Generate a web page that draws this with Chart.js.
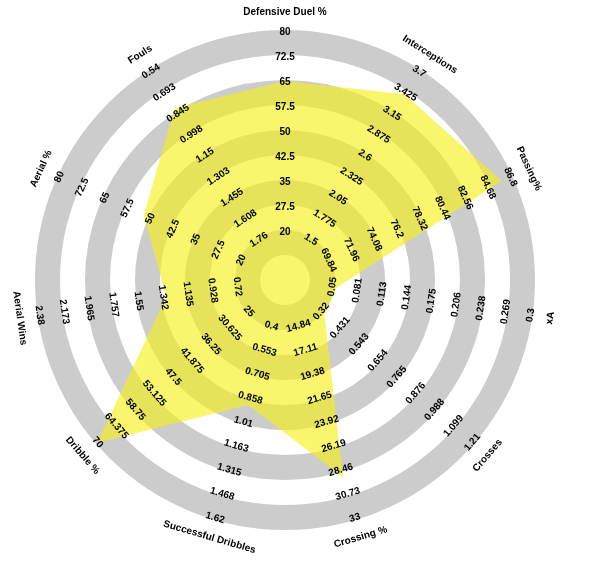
<!DOCTYPE html>
<html>
<head>
<meta charset="utf-8">
<title>Player Radar</title>
<script src="https://cdn.jsdelivr.net/npm/chart.js@4.4.1/dist/chart.umd.min.js"></script>
<style>
  html, body { margin: 0; padding: 0; background: #ffffff; }
  #radar-chart { display: block; }
</style>
</head>
<body>
<canvas id="radar-chart" width="589" height="564"></canvas>
<script>
// Radar parameters, clockwise from the top
const params = [
  "Defensive Duel %", "Interceptions", "Passing%", "xA", "Crosses", "Crossing %",
  "Successful Dribbles", "Dribble %", "Aerial Wins", "Aerial %", "Fouls"
];

// Player values
const playerValues = [64.7, 3.38, 85.8, 0.053, 0.33, 29.0, 0.89, 69.7, 1.30, 51.6, 0.82];

// Tick labels for every axis, inner ring to outer ring
const tickLabels = [
  ["20", "27.5", "35", "42.5", "50", "57.5", "65", "72.5", "80"],
  ["1.5", "1.775", "2.05", "2.325", "2.6", "2.875", "3.15", "3.425", "3.7"],
  ["69.84", "71.96", "74.08", "76.2", "78.32", "80.44", "82.56", "84.68", "86.8"],
  ["0.05", "0.081", "0.113", "0.144", "0.175", "0.206", "0.238", "0.269", "0.3"],
  ["0.32", "0.431", "0.543", "0.654", "0.765", "0.876", "0.988", "1.099", "1.21"],
  ["14.84", "17.11", "19.38", "21.65", "23.92", "26.19", "28.46", "30.73", "33"],
  ["0.4", "0.553", "0.705", "0.858", "1.01", "1.163", "1.315", "1.468", "1.62"],
  ["25", "30.625", "36.25", "41.875", "47.5", "53.125", "58.75", "64.375", "70"],
  ["0.72", "0.928", "1.135", "1.342", "1.55", "1.757", "1.965", "2.173", "2.38"],
  ["20", "27.5", "35", "42.5", "50", "57.5", "65", "72.5", "80"],
  ["1.76", "1.608", "1.455", "1.303", "1.15", "0.998", "0.845", "0.693", "0.54"]
];

const RING_GRAY = "#cccccc";
const FILL_YELLOW = "rgba(246, 240, 20, 0.62)";
const FONT = "'Liberation Sans', Arial, sans-serif";

document.addEventListener("DOMContentLoaded", () => {
  // first tick sits on ring 2, last tick on ring 10
  function toRing(value, ticks) {
    const lo = parseFloat(ticks[0]);
    const hi = parseFloat(ticks[ticks.length - 1]);
    return 2 + 8 * (value - lo) / (hi - lo);
  }

  // keep text readable on the lower half
  function drawTangentText(ctx, text, x, y, deg) {
    let rot = deg;
    if (deg > 90 && deg < 270) rot = deg - 180;
    ctx.save();
    ctx.translate(x, y);
    ctx.rotate(rot * Math.PI / 180);
    ctx.fillText(text, 0, 0);
    ctx.restore();
  }

  const radarDecor = {
    id: "radarDecor",
    beforeDatasetsDraw(chart) {
      const scale = chart.scales.r;
      const ctx = chart.ctx;
      ctx.save();
      ctx.strokeStyle = RING_GRAY;
      for (let k = 1; k < 10; k += 2) {
        const inner = scale.getDistanceFromCenterForValue(k);
        const outer = scale.getDistanceFromCenterForValue(k + 1);
        ctx.lineWidth = outer - inner;
        ctx.beginPath();
        ctx.arc(scale.xCenter, scale.yCenter, (inner + outer) / 2, 0, Math.PI * 2);
        ctx.stroke();
      }
      ctx.restore();
    },
    afterDatasetsDraw(chart) {
      const scale = chart.scales.r;
      const ctx = chart.ctx;
      ctx.save();
      ctx.fillStyle = "#000000";
      ctx.textAlign = "center";
      ctx.textBaseline = "middle";
      params.forEach((name, i) => {
        const deg = i * 360 / params.length;
        // tick labels
        ctx.font = "bold 10px " + FONT;
        tickLabels[i].forEach((label, k) => {
          const dist = scale.getDistanceFromCenterForValue(k + 2) - 2;
          const p = scale.getPointPosition(i, dist);
          drawTangentText(ctx, label, p.x, p.y, deg);
        });
        // parameter name
        const p = scale.getPointPosition(i, scale.drawingArea + 18);
        drawTangentText(ctx, name, p.x, p.y, deg);
      });
      ctx.restore();
    }
  };

  const ctx = document.getElementById("radar-chart").getContext("2d");
  new Chart(ctx, {
    type: "radar",
    data: {
      labels: params,
      datasets: [
        {
          data: playerValues.map((v, i) => toRing(v, tickLabels[i])),
          backgroundColor: FILL_YELLOW,
          borderWidth: 0,
          pointRadius: 0,
          fill: true,
        },
      ],
    },
    options: {
      responsive: false,
      animation: false,
      layout: {
        padding: { left: 35, right: 54, top: 30, bottom: 34 },
      },
      plugins: {
        legend: { display: false },
        tooltip: { enabled: false },
      },
      scales: {
        r: {
          min: 0,
          max: 10,
          ticks: { display: false },
          grid: { display: false },
          angleLines: { display: false },
          pointLabels: { display: false },
        },
      },
    },
    plugins: [radarDecor],
  });
});
</script>
</body>
</html>
